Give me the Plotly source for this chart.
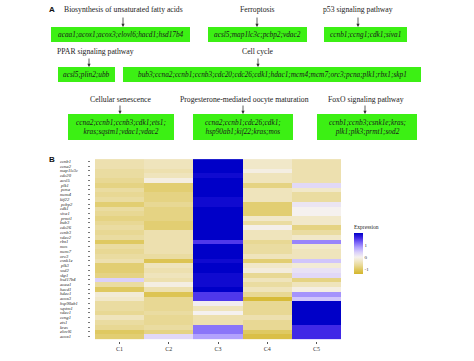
import plotly.graph_objects as go

W, H = 474, 361

# ---------------- data ----------------
pathways = [
    "Biosynthesis of unsaturated fatty acids",
    "Ferroptosis",
    "p53 signaling pathway",
    "PPAR signaling pathway",
    "Cell cycle",
    "Cellular senescence",
    "Progesterone-mediated oocyte maturation",
    "FoxO signaling pathway",
]
pathway_genes = [
    ["acaa1;acox1;acox3;elovl6;hacd1;hsd17b4"],
    ["acsl5;map1lc3c;pcbp2;vdac2"],
    ["ccnb1;ccng1;cdk1;siva1"],
    ["acsl5;plin2;ubb"],
    ["bub3;ccna2;ccnb1;ccnb3;cdc20;cdc26;cdk1;hdac1;mcm4;mcm7;orc3;pcna;plk1;rbx1;skp1"],
    ["ccna2;ccnb1;ccnb3;cdk1;ets1;", "kras;sqstm1;vdac1;vdac2"],
    ["ccna2;ccnb1;cdc26;cdk1;", "hsp90ab1;kif22;kras;mos"],
    ["ccnb1;ccnb3;csnk1e;kras;", "plk1;plk3;prmt1;sod2"],
]

genes = ["ccnb1", "ccna2", "map1lc3c", "cdc20", "acsl5", "plk1", "pcna", "mcm4",
         "kif22", "pcbp2", "cdk1", "siva1", "prmt1", "bub3", "cdc26", "ccnb3",
         "vdac2", "rbx1", "mos", "mcm7", "orc3", "csnk1e", "plk3", "sod2", "skp1",
         "hsd17b4", "acaa1", "hacd1", "hdac1", "acox3", "hsp90ab1", "sqstm1",
         "vdac1", "ccng1", "ets1", "kras", "elovl6", "acox1"]
clusters = ["C1", "C2", "C3", "C4", "C5"]

C1 = [-0.5, -0.5, -0.6, -0.6, -0.7, -0.8, -0.6, -0.7, -0.6, -0.9, -0.6, -0.7, -0.8,
      -0.7, -0.6, -0.7, -0.6, -1.0, -0.6, -0.7, -0.6, -0.5, -0.9, -0.9, -0.8, 0.4,
      -0.6, -1.0, -0.2, -0.3, -0.6, -0.6, -0.7, -0.4, -0.6, -0.7, -1.0, -0.9]
C2 = [-0.4, -0.4, -0.5, -0.4, -0.1, -0.9, -0.9, -0.8, -0.8, -0.7, -0.8, -0.8, -0.8,
      -0.9, -0.9, -0.5, -0.5, -0.5, -0.5, -0.5, -0.6, -1.1, -0.4, -0.5, -0.4, -0.5,
      -0.1, -0.5, -1.1, -0.7, -0.7, -0.7, -0.6, -0.7, -0.7, -0.6, -0.8, 0.3]
C3 = [2.0, 2.0, 2.0, 1.9, 2.0, 2.0, 2.0, 2.0, 1.9, 1.9, 2.0, 2.0, 2.0,
      2.0, 2.0, 2.0, 2.0, 1.5, 2.0, 2.0, 2.0, 1.9, 2.0, 2.0, 1.9, 1.9,
      1.9, 2.0, 1.5, 1.5, 0.05, -0.4, 0.0, -0.5, -0.5, 1.1, 1.1, 0.8]
C4 = [-0.3, -0.3, -0.1, -0.4, -0.4, -0.8, -0.4, -0.4, -0.4, -0.9, -0.9, -0.9, -0.3,
      -0.6, -0.05, -0.4, -0.4, -0.7, -0.6, -0.6, -0.4, -0.9, -0.3, -0.15, -0.7, -0.4,
      -0.6, -0.4, -0.7, -1.3, -0.7, -0.7, -0.7, -0.5, -0.7, -0.7, -1.0, -1.2]
C5 = [-0.5, -0.5, -0.5, -0.5, -0.5, 0.3, -0.3, -0.6, -0.6, 0.15, 0.0, 0.0, -0.3,
      -0.3, -0.8, -0.6, -0.3, 1.0, -0.3, -0.4, -0.4, 0.5, -0.2, 0.2, 0.3, -0.8,
      -0.4, -0.1, 0.9, 0.5, 2.0, 2.0, 2.0, 2.0, 2.0, 1.6, 1.6, 1.6]

cbar_ticks = [-1, 0, 1]

# ---------------- helpers ----------------
def px(x):
    return x / W

def py(y):
    return 1 - y / H

SERIF = "Liberation Serif"
GREEN = "#3cf014"

# layout of the pathway diagram (pixels): title x, title y, arrow x, arrow y0, y1, box x0, x1, y0, y1
diagram_layout = [
    (123, 10, 123, 16, 27, 51, 190, 27, 42),
    (257, 10, 257, 16, 27, 208, 307, 27, 42),
    (358, 10, 358, 16, 27, 324, 407, 27, 42),
    (95, 52, 89, 57, 67, 58, 115, 67, 82),
    (258, 52, 258, 57, 67, 123, 421, 67, 82),
    (120, 99, 120, 104, 114, 68, 174, 114, 140),
    (244, 99, 243, 104, 114, 193, 293, 114, 140),
    (366, 99, 365, 104, 114, 317, 417, 114, 140),
]

z = [[C1[i], C2[i], C3[i], C4[i], C5[i]] for i in range(len(genes))]

zmin, zmax = -1.4, 2.0
def f(v):
    return (v - zmin) / (zmax - zmin)

colorscale = [
    [0.0, "#d4b62c"],
    [f(-1.05), "#dec659"],
    [f(-0.7), "#e8d894"],
    [f(-0.35), "#f0e6c3"],
    [f(0.0), "#f5f1ef"],
    [f(0.4), "#dad0fa"],
    [f(0.8), "#b2a2fd"],
    [f(1.2), "#7d66f8"],
    [f(1.6), "#4028e6"],
    [1.0, "#0000c8"],
]

fig = go.Figure()
fig.add_trace(go.Heatmap(
    z=z, x=clusters, y=genes,
    zmin=zmin, zmax=zmax, colorscale=colorscale,
    colorbar=dict(
        title=dict(text="Expression", side="top", font=dict(family=SERIF, size=5.5, color="#222")),
        x=px(354), xanchor="left", xpad=0,
        y=py(274), yanchor="bottom", ypad=0,
        len=52, lenmode="pixels", thickness=9, thicknessmode="pixels",
        outlinewidth=0, tickvals=cbar_ticks, ticktext=[str(t) for t in cbar_ticks],
        ticks="", tickfont=dict(family=SERIF, size=5, color="#333"),
    ),
    hoverinfo="skip",
))

shapes = []
annotations = []
for name, glines, lay in zip(pathways, pathway_genes, diagram_layout):
    tx, ty, ax_, ay0, ay1, bx0, bx1, by0, by1 = lay
    shapes.append(dict(type="rect", xref="paper", yref="paper",
                       x0=px(bx0), x1=px(bx1), y0=py(by1), y1=py(by0),
                       fillcolor=GREEN, line=dict(width=0), layer="above"))
    annotations.append(dict(text=name, xref="paper", yref="paper", x=px(tx), y=py(ty),
                            xanchor="center", yanchor="middle", showarrow=False,
                            font=dict(family=SERIF, size=7.7, color="#222")))
    annotations.append(dict(text="", xref="paper", yref="paper", x=px(ax_), y=py(ay1),
                            axref="pixel", ayref="pixel", ax=0, ay=-(ay1 - ay0),
                            showarrow=True, arrowhead=2, arrowsize=0.8, arrowwidth=0.8,
                            arrowcolor="#333"))
    annotations.append(dict(text="<br>".join("<i>%s</i>" % g for g in glines),
                            xref="paper", yref="paper", x=px((bx0 + bx1) / 2), y=py((by0 + by1) / 2),
                            xanchor="center", yanchor="middle", showarrow=False,
                            font=dict(family=SERIF, size=7.3, color="#1a1a1a")))

annotations.append(dict(text="<b>A</b>", xref="paper", yref="paper", x=px(52), y=py(10),
                        xanchor="center", yanchor="middle", showarrow=False,
                        font=dict(family="Liberation Sans", size=8, color="#111")))
annotations.append(dict(text="<b>B</b>", xref="paper", yref="paper", x=px(52), y=py(159),
                        xanchor="center", yanchor="middle", showarrow=False,
                        font=dict(family="Liberation Sans", size=8, color="#111")))
for g in genes:
    annotations.append(dict(text="<i>%s</i>" % g, xref="paper", yref="y", x=px(58), y=g,
                            xanchor="left", yanchor="middle", showarrow=False,
                            font=dict(family=SERIF, size=4.6, color="#222")))

fig.update_layout(
    width=W, height=H,
    margin=dict(l=0, r=0, t=0, b=0),
    paper_bgcolor="white", plot_bgcolor="white",
    xaxis=dict(domain=[px(95), px(341)], anchor="y", ticks="outside", ticklen=2,
               tickcolor="#555", tickfont=dict(family=SERIF, size=6, color="#333"),
               showgrid=False, zeroline=False, showline=False),
    yaxis=dict(domain=[py(341), py(157)], anchor="free", position=px(90),
               autorange="reversed", ticks="outside", ticklen=2, tickcolor="#777",
               tickmode="array", tickvals=genes,
               showticklabels=False, showgrid=False, zeroline=False, showline=False),
    shapes=shapes, annotations=annotations,
    showlegend=False,
)

fig.write_html("out.html", config={"displayModeBar": False},
               post_script="document.body.style.margin='0';document.body.style.overflow='hidden';")
